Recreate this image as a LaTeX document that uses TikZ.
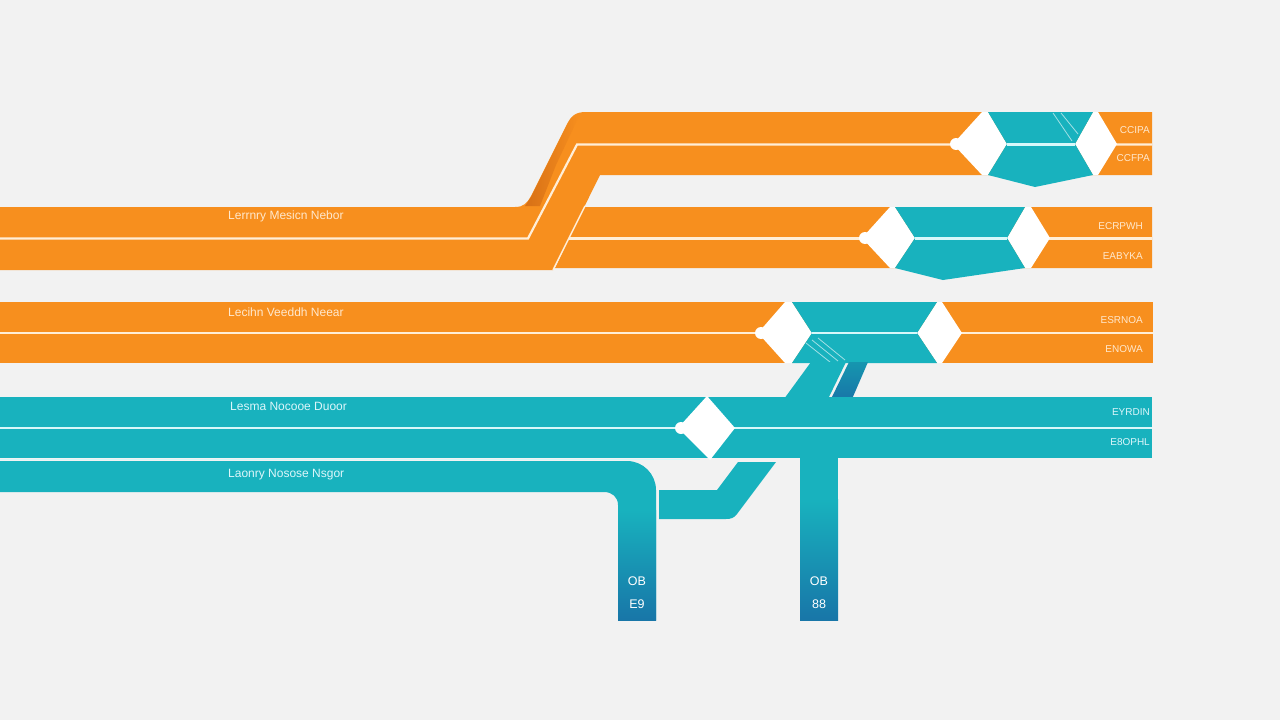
\documentclass[tikz,border=0pt]{standalone}
\usepackage{fontspec}
\setmainfont{Liberation Sans}
\definecolor{bg}{RGB}{242,242,242}
\definecolor{orB}{RGB}{247,143,30}
\definecolor{orD}{RGB}{215,112,22}
\definecolor{tealB}{RGB}{24,178,190}
\definecolor{tealD}{RGB}{22,150,175}
\definecolor{blueD}{RGB}{24,118,168}
\definecolor{sepO}{RGB}{255,238,215}
\definecolor{sepT}{RGB}{215,248,250}
\definecolor{txtO}{RGB}{255,232,205}
\definecolor{txtT}{RGB}{220,246,250}
\tikzset{
  sepline/.style={line width=2.2pt},
  whitebox/.style={fill=white},
  knob/.style={fill=white},
  lefttxt/.style={anchor=west, inner sep=0pt, font=\fontsize{12}{14}\selectfont},
  righttxt/.style={anchor=east, inner sep=0pt, font=\fontsize{10}{12}\selectfont},
  bartxt/.style={inner sep=0pt, text=white, font=\fontsize{12.5}{14}\selectfont},
  glint/.style={white, opacity=0.6, line width=0.8pt}
}
\begin{document}
\begin{tikzpicture}[x=1pt,y=-1pt]
\useasboundingbox (0,0) rectangle (1280,720);
\fill[bg] (0,0) rectangle (1280,720);

% ---------- S band (left row 2 -> top row 1) ----------
\fill[orB] (0,207) -- (515,207) .. controls (524,207) and (527,203) .. (531,196)
  -- (566,126) .. controls (571,116) and (575,112) .. (586,112) -- (1152,112)
  -- (1152,175) -- (600,175) -- (553,270) -- (0,270) -- cycle;
\shade[left color=orD, right color=orB] (525,206) -- (531,197) -- (566,127) -- (571,118) -- (580,114) -- (556,165) -- (540,206) -- cycle;
\draw[sepO, sepline] (0,238.5) -- (528,238.5) -- (577,144.5) -- (1152,144.5);

% ---------- row 2 right band ----------
\fill[orB] (584,207) -- (1152,207) -- (1152,268) -- (555,268) -- cycle;
\draw[sepO, line width=1.5pt] (553,270) -- (585,206);
\draw[sepO, sepline] (569,238.5) -- (1152,238.5);

% ---------- row 3 band ----------
\fill[orB] (0,302) rectangle (1153,363);
\draw[sepO, sepline] (0,333) -- (1153,333);

% ---------- row 1 junction ----------
\fill[whitebox] (953,144) -- (982,112) -- (988,112) -- (1007,144) -- (988,175) -- (982,175) -- cycle;
\fill[knob] (956,144) circle (6);
\fill[whitebox] (1075,144) -- (1093,112) -- (1098,112) -- (1117,144) -- (1098,175) -- (1093,175) -- cycle;
\fill[tealB] (988,112) -- (1093,112) -- (1075,144) -- (1093,175) -- (1035,187) -- (988,175) -- (1007,144) -- cycle;
\draw[sepT, sepline] (1007,144.5) -- (1075,144.5);
\draw[glint] (1053,113) -- (1072,141);
\draw[glint] (1061,113) -- (1078,134);

% ---------- row 2 junction ----------
\fill[whitebox] (862,238) -- (890,207) -- (895,207) -- (915,238) -- (895,268) -- (890,268) -- cycle;
\fill[knob] (865,238) circle (6);
\fill[whitebox] (1007,238) -- (1025,207) -- (1031,207) -- (1050,238) -- (1031,268) -- (1025,268) -- cycle;
\fill[tealB] (895,207) -- (1025,207) -- (1007,238) -- (1025,268) -- (943,280) -- (895,268) -- (915,238) -- cycle;
\draw[sepT, sepline] (915,238.5) -- (1007,238.5);

% ---------- row 3 junction ----------
\fill[whitebox] (758,333) -- (785,302) -- (792,302) -- (812,333) -- (792,363) -- (785,363) -- cycle;
\fill[knob] (761,333) circle (6);
\fill[whitebox] (917,333) -- (937,302) -- (942,302) -- (962,333) -- (942,363) -- (937,363) -- cycle;
\fill[tealB] (792,302) -- (937,302) -- (917,333) -- (937,363) -- (792,363) -- (812,333) -- cycle;
\draw[sepT, sepline] (812,333) -- (917,333);
\draw[glint] (806,343) -- (830,362);
\draw[glint] (812,340) -- (838,361);
\draw[glint] (818,338) -- (845,360);

% ---------- strips between row 3 and row 4 ----------
\fill[tealB] (811,362) -- (846,362) -- (828,399) -- (784,399) -- cycle;
\shade[top color=tealD, bottom color=blueD] (849,362) -- (868,362) -- (852,399) -- (831,399) -- cycle;

% ---------- row 4 teal band ----------
\fill[tealB] (0,397) rectangle (1152,458);
\draw[sepT, sepline] (0,428) -- (1152,428);
\fill[whitebox] (678,428) -- (707,396) -- (735,428) -- (710,460) -- cycle;
\fill[knob] (681,428) circle (6);

% ---------- vertical bar 2 ----------
\fill[tealB] (800,457) rectangle (838,500);
\shade[top color=tealB, bottom color=blueD] (800,499) rectangle (838,620);

% ---------- bottom stripe with bend ----------
\fill[tealB] (0,461) -- (627,461) .. controls (643,461) and (656,474) .. (656,490)
  -- (656,620) -- (618,620) -- (618,505) .. controls (618,497) and (612,492) .. (604,492)
  -- (0,492) -- cycle;
\shade[top color=tealB, bottom color=blueD] (618,510) rectangle (656,620);
\draw[sepT, line width=1.2pt] (0,459.5) -- (700,459.5);

% ---------- ribbon ----------
\fill[tealB] (659,490) -- (717,490) -- (738,462) -- (776,462) -- (737,514) .. controls (734,518) and (731,519) .. (726,519) -- (659,519) -- cycle;

% ---------- labels ----------
\node[lefttxt, text=txtO] (l1) at (228,216) {Lerrnry Mesicn Nebor};
\node[lefttxt, text=txtO] (l2) at (228,312) {Lecihn Veeddh Neear};
\node[lefttxt, text=txtT] (l3) at (230,406) {Lesma Nocooe Duoor};
\node[lefttxt, text=txtT] (l4) at (228,475) {Laonry Nosose Nsgor};

\node[righttxt, text=txtO] (r1a) at (1150,130) {CCIPA};
\node[righttxt, text=txtO] (r1b) at (1150,158) {CCFPA};
\node[righttxt, text=txtO] (r2a) at (1143,226) {ECRPWH};
\node[righttxt, text=txtO] (r2b) at (1143,256) {EABYKA};
\node[righttxt, text=txtO] (r3a) at (1143,320) {ESRNOA};
\node[righttxt, text=txtO] (r3b) at (1143,349) {ENOWA};
\node[righttxt, text=txtT] (r4a) at (1150,412) {EYRDIN};
\node[righttxt, text=txtT] (r4b) at (1150,442) {E8OPHL};

\node[bartxt] (b1a) at (637,581) {OB};
\node[bartxt] (b1b) at (637,604) {E9};
\node[bartxt] (b2a) at (819,581) {OB};
\node[bartxt] (b2b) at (819,604) {88};
\end{tikzpicture}
\end{document}
